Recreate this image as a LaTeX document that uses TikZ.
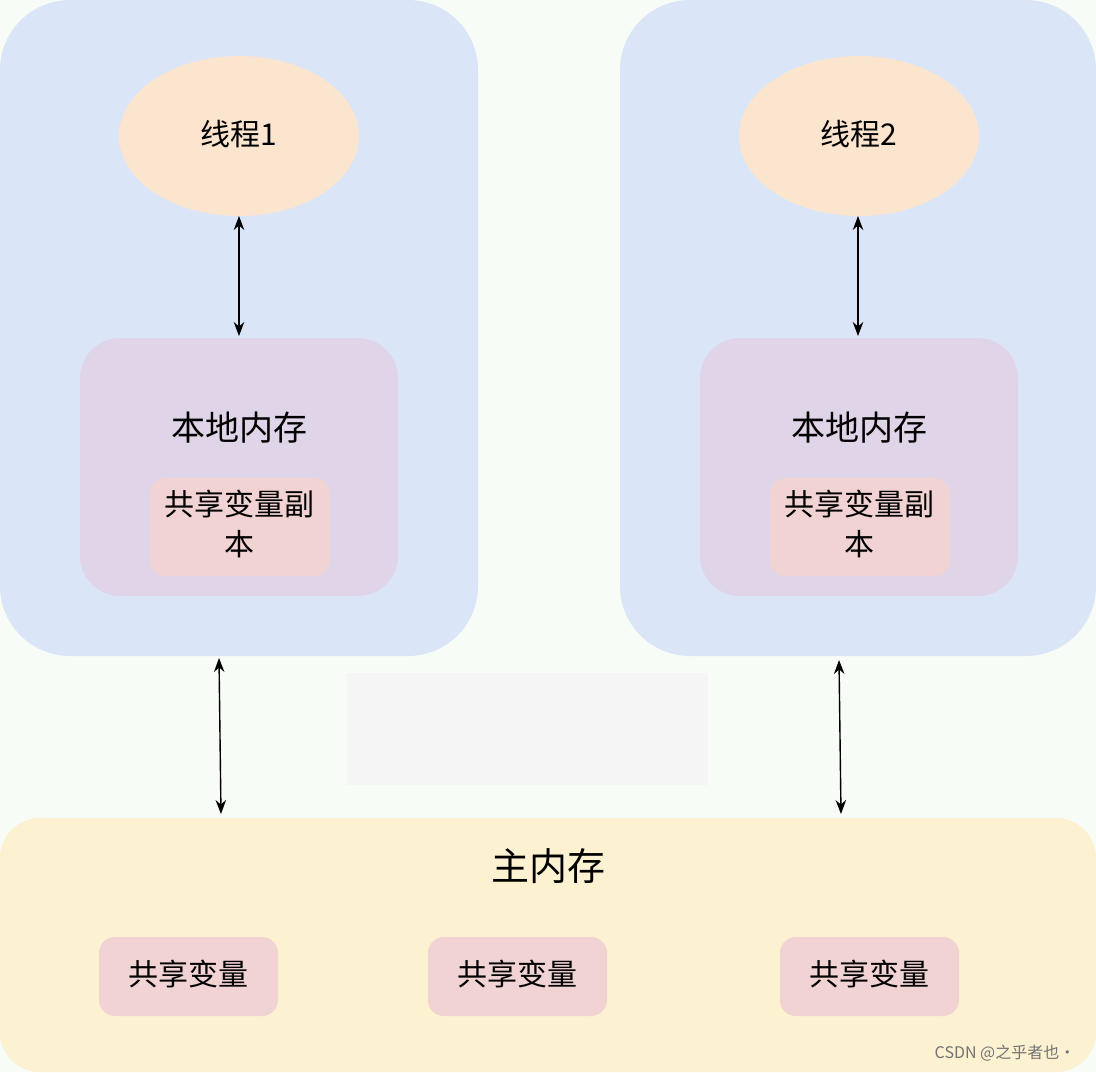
\documentclass[tikz,border=0pt]{standalone}
\usepackage{fontspec}
\setmainfont{Noto Sans CJK SC}
\usetikzlibrary{arrows.meta}
\definecolor{bg}{HTML}{F8FCF6}
\definecolor{blu}{HTML}{DAE6F8}
\definecolor{org}{HTML}{FBE5CE}
\definecolor{pur}{HTML}{E0D5E8}
\definecolor{pnk}{HTML}{F2D3D3}
\definecolor{yel}{HTML}{FCF1D0}
\tikzset{
 arr/.style={{Stealth[length=7pt]}-{Stealth[length=7pt]},line width=0.7pt,black},
 lbl/.style={font=\fontsize{15pt}{18pt}\selectfont,align=center,text=black}
}
\begin{document}
\begin{tikzpicture}[x=0.5pt,y=-0.5pt]
\fill[bg] (0,0) rectangle (1096,1072);
\useasboundingbox (0,0) rectangle (1096,1072);
\fill[blu,rounded corners=35pt] (0,0) rectangle (478,656);
\fill[blu,rounded corners=35pt] (620,0) rectangle (1096,656);
\fill[org] (239,136) ellipse [x radius=120, y radius=80];
\fill[org] (859,136) ellipse [x radius=120, y radius=80];
\node[lbl] (t1) at (239,134) {线程1};
\node[lbl] (t2) at (859,134) {线程2};
\coordinate (e1) at (239,216); \coordinate (e2) at (858,216);
\fill[pur,rounded corners=20pt] (80,338) rectangle (398,596);
\fill[pur,rounded corners=20pt] (700,338) rectangle (1018,596);
\coordinate (p1) at (239,336); \coordinate (p2) at (858,336);
\node[lbl,font=\fontsize{17pt}{20pt}\selectfont] (l1) at (239,428) {本地内存};
\node[lbl,font=\fontsize{17pt}{20pt}\selectfont] (l2) at (859,428) {本地内存};
\fill[pnk,rounded corners=8pt] (150,478) rectangle (330,576);
\fill[pnk,rounded corners=8pt] (770,478) rectangle (950,576);
\node[lbl,font=\fontsize{15pt}{20pt}\selectfont] (c1) at (239,524) {共享变量副\\本};
\node[lbl,font=\fontsize{15pt}{20pt}\selectfont] (c2) at (859,524) {共享变量副\\本};
\draw[arr] (e1) -- (p1);
\draw[arr] (e2) -- (p2);
\fill[black!4] (347,673) rectangle (708,785);
\fill[yel,rounded corners=20pt] (0,818) rectangle (1096,1072);
\node[lbl,font=\fontsize{19pt}{22pt}\selectfont] (mm) at (548,866) {主内存};
\coordinate (a1) at (219,658); \coordinate (b1) at (221,814);
\coordinate (a2) at (839,660); \coordinate (b2) at (841,814);
\draw[arr] (a1) -- (b1);
\draw[arr] (a2) -- (b2);
\foreach \x/\n in {99/s1,428/s2,780/s3}{
 \fill[pnk,rounded corners=8pt] (\x,937) rectangle (\x+179,1016);
 \node[lbl,font=\fontsize{15pt}{18pt}\selectfont] (\n) at (\x+89.5,974) {共享变量};
}
\node[text=black!55,font=\fontsize{8pt}{10pt}\selectfont] (wm) at (1005,1053) {CSDN @之乎者也·};
\end{tikzpicture}
\end{document}
